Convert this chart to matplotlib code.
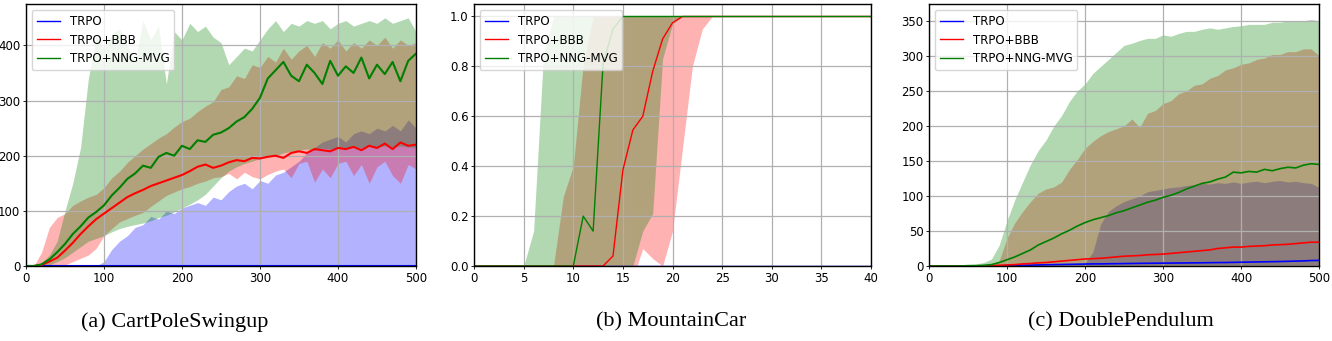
import numpy as np
import matplotlib
matplotlib.use("Agg")
import matplotlib.pyplot as plt

# ------------------------------------------------------------
# Data
# ------------------------------------------------------------
labels = ["TRPO", "TRPO+BBB", "TRPO+NNG-MVG"]
colors = ["b", "r", "g"]
captions = ["(a) CartPoleSwingup", "(b) MountainCar", "(c) DoublePendulum"]

# (a) CartPoleSwingup, every 10 iterations
a_iters = list(range(0, 501, 10))
a_trpo_mean = [0, 0, 0, 0, 0, 0, 0, 0, 0, 0,
               0, 0, 0, 0, 0, 0, 0, 0, 0, 0,
               0, 0, 0, 0, 0, 0, 0, 0, 0, 0,
               0, 0, 0, 0, 0, 0, 0, 0, 0, 0,
               0, 0, 0, 0, 0, 0, 0, 0, 0, 0,
               0]
a_trpo_hi = [0, 0, 0, 0, 0, 0, 0, 0, 0, 0,
             8, 30, 45, 55, 70, 75, 90, 85, 100, 95,
             105, 110, 115, 110, 125, 120, 135, 145, 150, 140,
             155, 150, 165, 170, 180, 190, 205, 215, 225, 230,
             235, 225, 240, 245, 240, 250, 245, 255, 245, 265,
             250]
a_bbb_mean = [0, 0, 2, 8, 15, 28, 42, 58, 72, 85,
              95, 105, 115, 125, 132, 138, 145, 150, 155, 160,
              165, 172, 180, 184, 178, 182, 188, 192, 190, 196,
              195, 198, 200, 196, 205, 208, 205, 212, 210, 208,
              214, 212, 216, 210, 218, 214, 222, 212, 224, 218,
              220]
a_bbb_lo = [0, 0, 0, 0, 0, 2, 8, 14, 20, 32,
            55, 68, 80, 86, 92, 97, 108, 118, 128, 134,
            140, 144, 150, 154, 160, 162, 168, 158, 170, 162,
            158, 166, 172, 176, 160, 186, 190, 152, 176, 160,
            186, 190, 164, 184, 150, 180, 190, 164, 150, 184,
            176]
a_bbb_hi = [0, 0, 25, 70, 88, 95, 110, 118, 125, 130,
            142, 160, 172, 188, 200, 212, 222, 232, 240, 252,
            262, 268, 280, 290, 298, 320, 325, 345, 340, 365,
            360, 380, 370, 395, 375, 390, 400, 380, 405, 395,
            410, 390, 405, 395, 410, 400, 415, 395, 410, 400,
            405]
a_nng_mean = [0, 0, 3, 12, 25, 40, 58, 72, 88, 98,
              110, 128, 142, 158, 168, 182, 178, 198, 205, 200,
              218, 212, 228, 225, 238, 242, 250, 262, 270, 285,
              305, 340, 355, 370, 345, 335, 365, 350, 330, 372,
              345, 362, 350, 378, 340, 365, 348, 370, 335, 372,
              385]
a_nng_lo = [0, 0, 0, 2, 8, 15, 25, 35, 45, 50,
            55, 62, 68, 72, 75, 78, 82, 88, 92, 98,
            105, 112, 120, 130, 145, 160, 172, 180, 186, 190,
            195, 198, 200, 205, 208, 210, 212, 210, 214, 212,
            215, 213, 216, 214, 217, 215, 218, 215, 218, 216,
            215]
a_nng_hi = [0, 1, 6, 20, 45, 100, 150, 215, 340, 415,
            395, 420, 430, 400, 370, 445, 410, 435, 330, 425,
            410, 440, 425, 435, 415, 405, 365, 380, 395, 390,
            410, 430, 445, 425, 440, 435, 445, 440, 445, 430,
            440, 445, 435, 440, 445, 440, 450, 440, 445, 450,
            425]

# (b) MountainCar, every iteration
b_iters = list(range(0, 41))
b_trpo_mean = [0, 0, 0, 0, 0, 0, 0, 0, 0, 0,
               0, 0, 0, 0, 0, 0, 0, 0, 0, 0,
               0, 0, 0, 0, 0, 0, 0, 0, 0, 0,
               0, 0, 0, 0, 0, 0, 0, 0, 0, 0,
               0]
b_bbb_mean = [0, 0, 0, 0, 0, 0, 0, 0, 0, 0,
              0, 0, 0, 0, 0.04, 0.385, 0.545, 0.6, 0.78, 0.91,
              0.975, 1, 1, 1, 1, 1, 1, 1, 1, 1,
              1, 1, 1, 1, 1, 1, 1, 1, 1, 1,
              1]
b_bbb_lo = [0, 0, 0, 0, 0, 0, 0, 0, 0, 0,
            0, 0, 0, 0, 0, 0, -0.05, 0.07, 0.03, 0,
            0.14, 0.47, 0.8, 0.95, 1, 1, 1, 1, 1, 1,
            1, 1, 1, 1, 1, 1, 1, 1, 1, 1,
            1]
b_bbb_hi = [0, 0, 0, 0, 0, 0, 0, 0, 0, 0.28,
            0.4, 0.81, 1, 1, 1, 1, 1, 1, 1, 1,
            1, 1, 1, 1, 1, 1, 1, 1, 1, 1,
            1, 1, 1, 1, 1, 1, 1, 1, 1, 1,
            1]
b_nng_mean = [0, 0, 0, 0, 0, 0, 0, 0, 0, 0,
              0, 0.2, 0.14, 0.81, 0.95, 1, 1, 1, 1, 1,
              1, 1, 1, 1, 1, 1, 1, 1, 1, 1,
              1, 1, 1, 1, 1, 1, 1, 1, 1, 1,
              1]
b_nng_lo = [0, 0, 0, 0, 0, 0, 0, 0, 0, 0,
            0, 0, 0, 0, 0, 0, 0, 0.14, 0.21, 0.83,
            0.97, 1, 1, 1, 1, 1, 1, 1, 1, 1,
            1, 1, 1, 1, 1, 1, 1, 1, 1, 1,
            1]
b_nng_hi = [0, 0, 0, 0, 0, 0, 0.14, 0.85, 1, 1,
            1, 1, 1, 1, 1, 1, 1, 1, 1, 1,
            1, 1, 1, 1, 1, 1, 1, 1, 1, 1,
            1, 1, 1, 1, 1, 1, 1, 1, 1, 1,
            1]

# (c) DoublePendulum, every 10 iterations
c_iters = list(range(0, 501, 10))
c_trpo_mean = [0, 0, 0, 0, 0, 0, 0, 0, 0, 0,
               0.5, 0.8, 1.0, 1.2, 1.5, 1.8, 2.0, 2.2, 2.4, 2.6,
               2.8, 3.0, 3.0, 3.2, 3.3, 3.5, 3.6, 3.8, 3.9, 4.0,
               4.1, 4.2, 4.3, 4.4, 4.5, 4.6, 4.8, 4.9, 5.0, 5.2,
               5.4, 5.6, 5.8, 6.0, 6.2, 6.4, 6.7, 7.0, 7.3, 7.8,
               8.0]
c_trpo_hi = [0, 0, 0, 0, 0, 0, 0, 0, 0, 0,
             1, 1, 1.5, 2, 2, 2.5, 3, 3, 3, 3,
             4, 20, 60, 78, 86, 92, 96, 100, 106, 108,
             110, 112, 113, 115, 116, 118, 117, 119, 118, 120,
             118, 120, 121, 119, 121, 122, 120, 121, 119, 118,
             112]
c_bbb_mean = [0, 0, 0, 0, 0, 0, 0, 0.2, 0.5, 1.0,
              1.5, 2.0, 3.0, 3.5, 4.5, 5.0, 6.0, 7.0, 8.0, 9.0,
              10.0, 10.5, 11.0, 12.0, 13.0, 14.0, 14.5, 15.0, 16.0, 16.5,
              17.0, 18.0, 19.0, 20.0, 21.0, 22.0, 23.0, 25.0, 26.0, 27.0,
              27.0, 28.0, 28.5, 29.0, 30.0, 30.5, 31.0, 32.0, 33.0, 34.0,
              34.0]
c_bbb_hi = [0, 0, 0, 0, 0, 0, 0.5, 1, 2, 8,
            40, 62, 78, 92, 104, 110, 113, 120, 138, 152,
            168, 178, 186, 192, 196, 200, 210, 198, 218, 222,
            232, 236, 246, 250, 258, 260, 268, 272, 280, 283,
            288, 290, 295, 297, 302, 302, 306, 306, 310, 310,
            300]
c_nng_mean = [0, 0, 0, 0, 0, 0.5, 0.5, 1, 2, 5,
              9, 13, 18, 23, 30, 35, 40, 46, 51, 57,
              62, 66, 69, 72, 76, 79, 83, 87, 91, 94,
              98, 101, 105, 110, 114, 118, 120, 124, 127, 134,
              133, 135, 134, 138, 136, 139, 141, 140, 144, 146,
              145]
c_nng_hi = [0, 0, 1, 1, 2, 2, 3, 5, 10, 30,
            65, 95, 120, 145, 165, 180, 200, 215, 235, 250,
            260, 275, 285, 295, 305, 315, 318, 322, 325, 325,
            330, 328, 332, 335, 335, 338, 340, 338, 340, 342,
            343, 345, 345, 345, 348, 348, 350, 350, 350, 352,
            350]

# ------------------------------------------------------------
# Figure
# ------------------------------------------------------------
fig = plt.figure(figsize=(13.32, 3.41), dpi=100)

panels = [
    dict(x=a_iters, rect=[0.0195, 0.2199, 0.2928, 0.7683], lw=1.5,
         xlim=(0, 500), ylim=(0, 475), xticks=range(0, 501, 100), yticks=range(0, 401, 100),
         series=[(a_trpo_mean, 0, a_trpo_hi), (a_bbb_mean, a_bbb_lo, a_bbb_hi),
                 (a_nng_mean, a_nng_lo, a_nng_hi)]),
    dict(x=b_iters, rect=[0.3559, 0.2199, 0.2980, 0.7683], lw=1.0,
         xlim=(0, 40), ylim=(0, 1.05), xticks=range(0, 41, 5), yticks=[0.0, 0.2, 0.4, 0.6, 0.8, 1.0],
         series=[(b_trpo_mean, 0, b_trpo_mean), (b_bbb_mean, b_bbb_lo, b_bbb_hi),
                 (b_nng_mean, b_nng_lo, b_nng_hi)]),
    dict(x=c_iters, rect=[0.6975, 0.2199, 0.2928, 0.7683], lw=1.2,
         xlim=(0, 500), ylim=(0, 374), xticks=range(0, 501, 100), yticks=range(0, 351, 50),
         series=[(c_trpo_mean, 0, c_trpo_hi), (c_bbb_mean, 0, c_bbb_hi),
                 (c_nng_mean, 0, c_nng_hi)]),
]

for p in panels:
    ax = fig.add_axes(p["rect"])
    x = p["x"]
    # shaded bands first, lines on top
    for (mean, lo, hi), col in zip(p["series"], colors):
        ax.fill_between(x, lo, hi, color=col, alpha=0.3, linewidth=0)
    for (mean, lo, hi), col, lab in zip(p["series"], colors, labels):
        ax.plot(x, mean, color=col, lw=p["lw"], label=lab)
    ax.set_xlim(*p["xlim"])
    ax.set_ylim(*p["ylim"])
    ax.set_xticks(list(p["xticks"]))
    ax.set_yticks(list(p["yticks"]))
    # grid above the bands but under the lines
    ax.grid(True, color="#b0b0b0", lw=0.9)
    ax.set_axisbelow("line")
    ax.tick_params(labelsize=8.5, length=2.5, width=0.6, pad=1.5)
    for s in ax.spines.values():
        s.set_linewidth(1.0)
    leg = ax.legend(loc="upper left", fontsize=8.5, framealpha=0.8, borderaxespad=0.5)
    for h in leg.get_lines():
        h.set_linewidth(1.0)

cap_x = [0.1314, 0.5038, 0.8416]
for cx, cap in zip(cap_x, captions):
    fig.text(cx, 0.056, cap, ha="center", va="center",
             family="Liberation Serif", fontsize=16)

fig.savefig("out.png", dpi=100)
